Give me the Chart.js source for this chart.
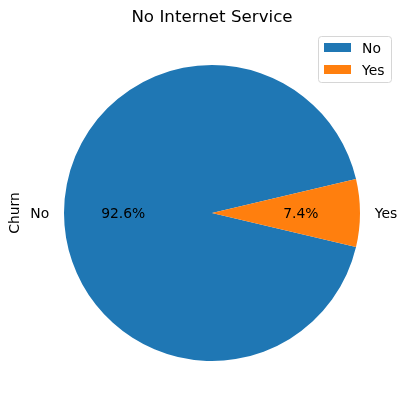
<!DOCTYPE html>
<html>
<head>
<meta charset="utf-8">
<script src="https://cdn.jsdelivr.net/npm/chart.js@4.4.0/dist/chart.umd.min.js"></script>
<style>
  html, body { margin: 0; padding: 0; background: #fff; }
  canvas { display: block; }
</style>
</head>
<body>
<canvas id="pie" width="406" height="407"></canvas>
<script>
// data
const categories = ['No', 'Yes'];
const churnShare = [92.6, 7.4];
const sliceColors = ['#1f77b4', '#ff7f0e'];
const titleText = 'No Internet Service';
const axisLabel = 'Churn';

const FONT = '"DejaVu Sans", sans-serif';

// matplotlib-style labels, percentages, title and legend
const pieText = {
    id: 'pieText',
    afterDraw(chart) {
        const ctx = chart.ctx;
        const arcs = chart.getDatasetMeta(0).data;
        ctx.save();
        ctx.fillStyle = '#000';
        ctx.textBaseline = 'middle';

        arcs.forEach((arc, i) => {
            const mid = (arc.startAngle + arc.endAngle) / 2;
            const r = arc.outerRadius;
            const cx = arc.x, cy = arc.y;
            // category label at 1.1 r
            const lx = cx + Math.cos(mid) * r * 1.1;
            const ly = cy + Math.sin(mid) * r * 1.1;
            ctx.font = '13.9px ' + FONT;
            ctx.textAlign = lx < cx ? 'right' : 'left';
            ctx.fillText(categories[i], lx, ly + 1.5);
            // percentage at 0.6 r
            const px = cx + Math.cos(mid) * r * 0.6;
            const py = cy + Math.sin(mid) * r * 0.6;
            ctx.textAlign = 'center';
            ctx.fillText(churnShare[i].toFixed(1) + '%', px, py + 1.5);
        });

        // title
        ctx.font = '16.7px ' + FONT;
        ctx.textAlign = 'center';
        ctx.fillText(titleText, 212, 18);

        // y label
        ctx.save();
        ctx.translate(15, 213);
        ctx.rotate(-Math.PI / 2);
        ctx.font = '13.9px ' + FONT;
        ctx.fillText(axisLabel, 0, 0);
        ctx.restore();

        // legend
        const bx = 318.5, by = 36.5, bw = 73, bh = 46, rad = 3;
        ctx.beginPath();
        ctx.moveTo(bx + rad, by);
        ctx.arcTo(bx + bw, by, bx + bw, by + bh, rad);
        ctx.arcTo(bx + bw, by + bh, bx, by + bh, rad);
        ctx.arcTo(bx, by + bh, bx, by, rad);
        ctx.arcTo(bx, by, bx + bw, by, rad);
        ctx.closePath();
        ctx.fillStyle = 'rgba(255,255,255,0.8)';
        ctx.fill();
        ctx.strokeStyle = '#d6d6d6';
        ctx.lineWidth = 1;
        ctx.stroke();

        categories.forEach((c, i) => {
            const y = 47 + i * 22;
            ctx.fillStyle = sliceColors[i];
            ctx.fillRect(324, y - 4, 27, 9);
            ctx.fillStyle = '#000';
            ctx.font = '13.9px ' + FONT;
            ctx.textAlign = 'left';
            ctx.fillText(c, 362, y + 2);
        });
        ctx.restore();
    }
};

new Chart(document.getElementById('pie').getContext('2d'), {
    type: 'pie',
    data: {
        labels: categories,
        datasets: [{
            data: churnShare,
            backgroundColor: sliceColors,
            borderWidth: 0
        }]
    },
    options: {
        responsive: false,
        animation: false,
        // Yes slice centred on 3 o'clock
        rotation: 90 + (360 * churnShare[1] / 100) / 2,
        layout: { padding: { left: 64, right: 46, top: 65, bottom: 46 } },
        plugins: {
            legend: { display: false },
            title: { display: false },
            tooltip: { enabled: false }
        }
    },
    plugins: [pieText]
});
</script>
</body>
</html>
